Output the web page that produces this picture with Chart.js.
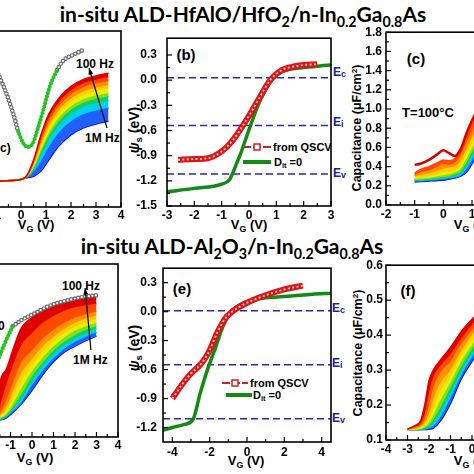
<!DOCTYPE html>
<html>
<head>
<meta charset="utf-8">
<script src="https://cdn.jsdelivr.net/npm/chart.js@4.4.1/dist/chart.umd.min.js"></script>
<style>
  html, body { margin: 0; padding: 0; background: #fff; }
  body { width: 474px; height: 474px; overflow: hidden; position: relative;
         font-family: "Liberation Sans", Arial, sans-serif; font-weight: bold; color: #000; }
  canvas { position: absolute; }
  .t { position: absolute; white-space: nowrap; line-height: 1; }
  .c { transform: translate(-50%, -50%); }
  .l { transform: translate(0, -50%); }
  .rot { transform: translate(-50%, -50%) rotate(-90deg); }
  .title { font-family: Lato, "Open Sans", sans-serif; font-size: 21px; font-weight: bold; }
  sub { font-size: 68%; position: relative; top: 0.32em; vertical-align: baseline; line-height: 0; }
  sup { font-size: 65%; position: relative; top: -0.45em; vertical-align: baseline; line-height: 0; }
  .lab { font-size: 15px; }
  .ax { font-size: 13px; }
  .lg { font-size: 11px; }
  .e { color: #2020a0; font-size: 12px; }
  .e sub { font-size: 75%; top: 0.15em; }
  svg { position: absolute; }
</style>
</head>
<body>

<div class="t title c" style="left:243px; top:13px">in-situ ALD-HfAlO/HfO<sub>2</sub>/n-In<sub>0.2</sub>Ga<sub>0.8</sub>As</div>
<div class="t title c" style="left:232px; top:245px">in-situ ALD-Al<sub>2</sub>O<sub>3</sub>/n-In<sub>0.2</sub>Ga<sub>0.8</sub>As</div>

<!-- panel labels and notes -->
<div class="t lab c" style="left:186px; top:54px">(b)</div>
<div class="t lab c" style="left:416px; top:58px">(c)</div>
<div class="t lab c" style="left:182px; top:288px">(e)</div>
<div class="t lab c" style="left:408px; top:290px">(f)</div>
<div class="t c" style="left:428px; top:112px; font-size:13px">T=100°C</div>
<div class="t l" style="left:76px; top:64px; font-size:12px">100 Hz</div>
<div class="t l" style="left:85px; top:138px; font-size:12px">1M Hz</div>
<div class="t l" style="left:62px; top:286px; font-size:12px">100 Hz</div>
<div class="t l" style="left:73px; top:360px; font-size:12px">1M Hz</div>
<div class="t l" style="left:0px; top:148px; font-size:12px">c)</div>
<div class="t l" style="left:-2px; top:326px; font-size:12px">0</div>

<!-- legends -->
<svg style="left:243px; top:143px" width="28" height="8"><line x1="0" y1="4" x2="28" y2="4" stroke="#d42020" stroke-width="2" stroke-dasharray="8 2"/><rect x="11" y="1" width="6" height="6" fill="#fff" stroke="#d42020" stroke-width="1.5"/></svg>
<div class="t lg l" style="left:273px; top:147px">from QSCV</div>
<svg style="left:243px; top:159px" width="28" height="6"><line x1="0" y1="3" x2="28" y2="3" stroke="#138a13" stroke-width="4"/></svg>
<div class="t lg l" style="left:274px; top:162px">D<sub>it</sub> =0</div>

<svg style="left:222px; top:379px" width="26" height="8"><line x1="0" y1="4" x2="26" y2="4" stroke="#d42020" stroke-width="2" stroke-dasharray="8 2"/><rect x="10" y="1" width="6" height="6" fill="#fff" stroke="#d42020" stroke-width="1.5"/></svg>
<div class="t lg l" style="left:250px; top:383px">from QSCV</div>
<svg style="left:226px; top:392px" width="26" height="6"><line x1="0" y1="3" x2="26" y2="3" stroke="#138a13" stroke-width="4"/></svg>
<div class="t lg l" style="left:253px; top:395px">D<sub>it</sub> =0</div>

<!-- band edges -->
<div class="t e l" style="left:333px; top:72px">E<sub>c</sub></div>
<div class="t e l" style="left:333px; top:122px">E<sub>i</sub></div>
<div class="t e l" style="left:333px; top:173px">E<sub>v</sub></div>
<div class="t e l" style="left:332px; top:308px">E<sub>c</sub></div>
<div class="t e l" style="left:332px; top:363px">E<sub>i</sub></div>
<div class="t e l" style="left:332px; top:418px">E<sub>v</sub></div>

<!-- axis titles -->
<div class="t ax c" style="left:36px; top:224px">V<sub>G</sub> (V)</div>
<div class="t ax c" style="left:249px; top:224px">V<sub>G</sub> (V)</div>
<div class="t ax c" style="left:472px; top:224px">V<sub>G</sub> (V)</div>
<div class="t ax c" style="left:35px; top:457px">V<sub>G</sub> (V)</div>
<div class="t ax c" style="left:246px; top:460px">V<sub>G</sub> (V)</div>
<div class="t ax c" style="left:472px; top:460px">V<sub>G</sub> (V)</div>
<div class="t rot" style="left:134px; top:130px; font-size:14px"><i>ψ</i><sub>s</sub> (eV)</div>
<div class="t rot" style="left:134px; top:348px; font-size:14px"><i>ψ</i><sub>s</sub> (eV)</div>
<div class="t rot" style="left:357px; top:128px; font-size:12.5px">Capacitance (μF/cm<sup>2</sup>)</div>
<div class="t rot" style="left:358px; top:353px; font-size:12.5px">Capacitance (μF/cm<sup>2</sup>)</div>

<script>
// ---------- data ----------
// colours of the frequency sweep, 100 Hz (top) ... 1 MHz (bottom)
const rainbow = ['#e00000', '#ff4800', '#ff9000', '#ffd000', '#e8f000', '#80e020', '#10d060', '#00d0f0', '#2060ff', '#0000c8'];

// (a) HfAlO/HfO2 C-V, normalised (y axis is cropped off)
const vgA = [-1.5, -0.8, -0.2, 0.2, 0.5, 0.8, 1.1, 1.5, 2.0, 2.5, 3.0, 3.5];
const cvA = [
  [0.135, 0.148, 0.152, 0.172, 0.265, 0.410, 0.525, 0.615, 0.685, 0.725, 0.745, 0.760],
  [0.135, 0.148, 0.152, 0.171, 0.258, 0.394, 0.504, 0.593, 0.663, 0.703, 0.723, 0.738],
  [0.135, 0.148, 0.152, 0.171, 0.251, 0.377, 0.483, 0.572, 0.641, 0.681, 0.701, 0.716],
  [0.135, 0.148, 0.152, 0.170, 0.243, 0.359, 0.460, 0.548, 0.616, 0.656, 0.677, 0.692],
  [0.135, 0.148, 0.152, 0.170, 0.236, 0.344, 0.442, 0.529, 0.597, 0.637, 0.658, 0.673],
  [0.135, 0.148, 0.152, 0.169, 0.228, 0.326, 0.418, 0.504, 0.572, 0.612, 0.633, 0.648],
  [0.135, 0.148, 0.152, 0.169, 0.222, 0.312, 0.400, 0.485, 0.553, 0.593, 0.614, 0.629],
  [0.135, 0.148, 0.152, 0.168, 0.214, 0.293, 0.377, 0.461, 0.528, 0.568, 0.589, 0.605],
  [0.135, 0.148, 0.152, 0.167, 0.200, 0.262, 0.338, 0.421, 0.487, 0.527, 0.548, 0.564],
  [0.135, 0.148, 0.152, 0.165, 0.175, 0.205, 0.265, 0.345, 0.410, 0.450, 0.472, 0.488]
];
const vgAq = [-1.2, -0.84, -0.56, -0.32, -0.12, 0.08, 0.28, 0.48, 0.68, 0.88, 1.16, 1.44, 1.68, 2.08, 2.48];
const qscvA = [0.85, 0.733, 0.636, 0.534, 0.432, 0.364, 0.341, 0.364, 0.449, 0.545, 0.688, 0.778, 0.83, 0.864, 0.892];
const greenA = [4, 11];   // highlighted QSCV points (index range)

// (b) surface potential, HfAlO/HfO2
const vgBq = [-2.6, -2.0, -1.5, -1.0, -0.6, -0.2, 0.1, 0.4, 0.8, 1.2, 1.6, 2.0, 2.5];
const psiBq = [-0.95, -0.94, -0.93, -0.85, -0.72, -0.53, -0.37, -0.20, 0.01, 0.12, 0.16, 0.18, 0.19];
const vgBd = [-3.0, -2.0, -1.0, -0.7, -0.5, -0.3, 0.0, 0.4, 0.9, 1.5, 2.0, 2.6, 3.0];
const psiBd = [-1.33, -1.29, -1.24, -1.18, -1.03, -0.87, -0.59, -0.25, 0.03, 0.13, 0.15, 0.17, 0.18];
const levelsB = [0.03, -0.54, -1.12];   // Ec, Ei, Ev

// (c) HfAlO/HfO2 C-V at 100 C
const vgC = [-1.0, -0.8, -0.5, -0.2, 0.0, 0.2, 0.4, 0.6, 0.8, 1.0, 1.2, 1.5];
const cvC = [
  [0.42, 0.43, 0.47, 0.53, 0.57, 0.54, 0.51, 0.58, 0.74, 0.88, 1.00, 1.15],
  [0.33, 0.37, 0.40, 0.44, 0.47, 0.46, 0.48, 0.56, 0.71, 0.84, 0.96, 1.10],
  [0.31, 0.34, 0.36, 0.40, 0.43, 0.42, 0.44, 0.52, 0.65, 0.77, 0.89, 1.04],
  [0.30, 0.31, 0.33, 0.36, 0.38, 0.39, 0.40, 0.46, 0.58, 0.70, 0.82, 0.98],
  [0.28, 0.29, 0.30, 0.32, 0.34, 0.35, 0.36, 0.42, 0.53, 0.64, 0.76, 0.92],
  [0.27, 0.275, 0.285, 0.30, 0.31, 0.32, 0.34, 0.38, 0.48, 0.59, 0.70, 0.86],
  [0.26, 0.265, 0.275, 0.285, 0.29, 0.30, 0.32, 0.35, 0.44, 0.55, 0.65, 0.80],
  [0.255, 0.26, 0.265, 0.275, 0.28, 0.29, 0.30, 0.33, 0.40, 0.51, 0.61, 0.75],
  [0.25, 0.25, 0.26, 0.265, 0.27, 0.28, 0.29, 0.31, 0.37, 0.47, 0.57, 0.71],
  [0.24, 0.245, 0.25, 0.255, 0.26, 0.27, 0.28, 0.30, 0.34, 0.43, 0.53, 0.67]
];

// (d) Al2O3 C-V, normalised (y axis is cropped off)
const vgD = [-1.6, -1.5, -1.2, -0.9, -0.5, 0.0, 0.5, 1.0, 1.5, 2.0, 2.5, 3.0];
const cvD = [
  [0.10, 0.30, 0.39, 0.50, 0.63, 0.69, 0.735, 0.77, 0.785, 0.80, 0.81, 0.815],
  [0.10, 0.17, 0.30, 0.41, 0.53, 0.60, 0.66, 0.70, 0.73, 0.75, 0.762, 0.77],
  [0.10, 0.13, 0.21, 0.31, 0.43, 0.50, 0.57, 0.62, 0.66, 0.69, 0.71, 0.725],
  [0.10, 0.12, 0.17, 0.26, 0.37, 0.45, 0.525, 0.58, 0.625, 0.66, 0.685, 0.70],
  [0.10, 0.115, 0.15, 0.22, 0.32, 0.41, 0.49, 0.55, 0.60, 0.635, 0.66, 0.68],
  [0.10, 0.11, 0.135, 0.19, 0.28, 0.38, 0.46, 0.525, 0.575, 0.615, 0.64, 0.66],
  [0.10, 0.105, 0.125, 0.17, 0.245, 0.35, 0.43, 0.50, 0.55, 0.59, 0.62, 0.64],
  [0.10, 0.105, 0.12, 0.16, 0.22, 0.32, 0.41, 0.48, 0.53, 0.57, 0.60, 0.625],
  [0.10, 0.10, 0.115, 0.15, 0.20, 0.30, 0.385, 0.455, 0.51, 0.55, 0.58, 0.605],
  [0.10, 0.10, 0.11, 0.14, 0.19, 0.27, 0.36, 0.435, 0.49, 0.525, 0.557, 0.583]
];
const vgDq = [-1.6, -1.5, -1.2, -0.9, -0.5, 0.05, 0.85, 1.65, 2.4, 3.05];
const qscvD = [0.44, 0.47, 0.56, 0.64, 0.675, 0.71, 0.76, 0.79, 0.81, 0.82];
const greenD = [0, 3];

// (e) surface potential, Al2O3
const vgEq = [-4.0, -3.5, -3.0, -2.6, -2.3, -2.0, -1.6, -1.2, -0.8, -0.4, 0.2, 1.0, 2.0, 3.0];
const psiEq = [-0.90, -0.76, -0.64, -0.57, -0.50, -0.40, -0.22, -0.08, 0.0, 0.05, 0.11, 0.17, 0.23, 0.27];
const vgEd = [-4.5, -4.0, -3.4, -2.9, -2.5, -2.1, -1.7, -1.3, -0.9, -0.4, 0.5, 1.5, 2.5, 3.5, 4.5];
const psiEd = [-1.23, -1.20, -1.17, -1.12, -0.84, -0.59, -0.38, -0.16, -0.01, 0.07, 0.13, 0.15, 0.165, 0.18, 0.19];
const levelsE = [0.01, -0.55, -1.11];

// (f) Al2O3 C-V at 100 C
const vgF = [-3.0, -2.7, -2.4, -2.2, -2.0, -1.8, -1.5, -1.0, -0.5, 0.0, 0.5, 1.0];
const cvF = [
  [0.131, 0.14, 0.154, 0.20, 0.27, 0.30, 0.326, 0.365, 0.41, 0.445, 0.475, 0.50],
  [0.131, 0.138, 0.148, 0.175, 0.235, 0.28, 0.31, 0.345, 0.39, 0.43, 0.46, 0.485],
  [0.13, 0.135, 0.142, 0.16, 0.20, 0.25, 0.29, 0.325, 0.375, 0.415, 0.45, 0.475],
  [0.13, 0.133, 0.138, 0.15, 0.175, 0.215, 0.26, 0.30, 0.355, 0.40, 0.435, 0.46],
  [0.13, 0.132, 0.135, 0.143, 0.16, 0.19, 0.235, 0.28, 0.34, 0.385, 0.42, 0.45],
  [0.13, 0.131, 0.133, 0.138, 0.15, 0.17, 0.21, 0.265, 0.325, 0.372, 0.41, 0.44],
  [0.13, 0.13, 0.132, 0.135, 0.142, 0.158, 0.19, 0.25, 0.31, 0.36, 0.40, 0.43],
  [0.13, 0.13, 0.131, 0.133, 0.137, 0.148, 0.175, 0.235, 0.297, 0.348, 0.39, 0.42],
  [0.13, 0.13, 0.13, 0.131, 0.134, 0.14, 0.162, 0.22, 0.285, 0.337, 0.38, 0.41],
  [0.13, 0.13, 0.13, 0.13, 0.131, 0.134, 0.152, 0.205, 0.275, 0.325, 0.37, 0.40]
];

// tick values
const ticksV1 = [-4, -3, -2, -1, 0, 1, 2, 3, 4];
const ticksVb = [-3, -2, -1, 0, 1, 2, 3];
const ticksVc = [-2, -1, 0, 1, 2, 3, 4];
const ticksVe = [-4, -2, 0, 2, 4];
const ticksNorm = [0, 0.2, 0.4, 0.6, 0.8, 1.0];
const ticksPsiB = [-1.5, -1.2, -0.9, -0.6, -0.3, 0.0, 0.3];
const ticksPsiE = [-1.2, -0.9, -0.6, -0.3, 0.0, 0.3];
const ticksCapC = [0, 0.2, 0.4, 0.6, 0.8, 1.0, 1.2, 1.4, 1.6, 1.8];
const ticksCapF = [0.1, 0.2, 0.3, 0.4, 0.5, 0.6];

// ---------- helpers ----------
const font = { family: 'Liberation Sans', weight: 'bold', size: 12 };
const pts = (xs, ys) => xs.map((x, i) => ({ x: x, y: ys[i] }));

function band(xs, curves, firstFill) {
  return curves.map((ys, i) => ({
    data: pts(xs, ys),
    borderColor: rainbow[i], backgroundColor: rainbow[i], borderWidth: 1.5,
    fill: (i >= firstFill && i < curves.length - 1) ? '+1' : false,
    order: 5
  }));
}
function dots(xs, ys, color, w, gap, order) {
  return { data: pts(xs, ys), borderColor: color, borderWidth: w, borderDash: [0, gap],
           borderCapStyle: 'round', fill: false, order: order };
}
function qscvRings(xs, ys, hi) {
  const out = [];
  const parts = [[0, hi[0] + 1], [hi[1], xs.length]];
  parts.forEach(p => {
    if (p[1] - p[0] < 2) return;
    const sx = xs.slice(p[0], p[1]), sy = ys.slice(p[0], p[1]);
    out.push(dots(sx, sy, '#6a6a6a', 4.6, 3.6, 2));
    out.push(dots(sx, sy, '#ffffff', 2.2, 3.6, 1));
  });
  out.push(dots(xs.slice(hi[0], hi[1] + 1), ys.slice(hi[0], hi[1] + 1), '#22c322', 4.2, 3.4, 0));
  return out;
}
function squares(xs, ys) {
  return [
    { data: pts(xs, ys), borderColor: '#e01414', borderWidth: 6, fill: false, order: 1 },
    { data: pts(xs, ys), borderColor: '#ffd6d6', borderWidth: 1.8, borderDash: [2, 2.4], fill: false, order: 0 }
  ];
}
function levels(vals, xmin, xmax) {
  return vals.map(v => ({ data: [{ x: xmin, y: v }, { x: xmax, y: v }], borderColor: '#2b2ba8',
    borderWidth: 1.5, borderDash: [7, 4], fill: false, order: 4 }));
}

const framePlugin = {
  id: 'frame',
  afterDatasetsDraw(chart, args, opts) {
    const { ctx, chartArea: a, scales } = chart;
    const xs = scales.x, ys = scales.y;
    ctx.save();
    ctx.strokeStyle = '#000';
    ctx.fillStyle = '#000';
    ctx.lineWidth = 1.2;
    const mark = (ticks, scale, horiz) => {
      const v = ticks.map(t => t.value);
      const all = [];
      v.forEach((t, i) => {
        all.push([t, 5]);
        if (i < v.length - 1) all.push([(t + v[i + 1]) / 2, 3]);
      });
      all.forEach(([t, len]) => {
        const p = scale.getPixelForValue(t);
        ctx.beginPath();
        if (horiz) { ctx.moveTo(p, a.bottom); ctx.lineTo(p, a.bottom - len); }
        else { ctx.moveTo(a.left, p); ctx.lineTo(a.left + len, p); }
        ctx.stroke();
      });
    };
    mark(xs.ticks, xs, true);
    mark(ys.ticks, ys, false);
    ctx.lineWidth = 1.6;
    ctx.strokeRect(a.left, a.top, a.right - a.left, a.bottom - a.top);
    ctx.lineWidth = 1.2;
    (opts.arrows || []).forEach(ar => {
      const x1 = xs.getPixelForValue(ar.from[0]), y1 = ys.getPixelForValue(ar.from[1]);
      const x2 = xs.getPixelForValue(ar.to[0]), y2 = ys.getPixelForValue(ar.to[1]);
      ctx.beginPath(); ctx.moveTo(x1, y1); ctx.lineTo(x2, y2); ctx.stroke();
      const ang = Math.atan2(y2 - y1, x2 - x1);
      ctx.beginPath();
      ctx.moveTo(x2, y2);
      ctx.lineTo(x2 - 7 * Math.cos(ang - 0.35), y2 - 7 * Math.sin(ang - 0.35));
      ctx.lineTo(x2 - 7 * Math.cos(ang + 0.35), y2 - 7 * Math.sin(ang + 0.35));
      ctx.closePath(); ctx.fill();
    });
    ctx.restore();
  }
};

// box = plot area in page pixels
function panel(box, x, y, datasets, extra) {
  const padL = 50, padT = 10, padR = 10, padB = 30;
  const w = box.r - box.l + padL + padR, h = box.b - box.t + padT + padB;
  const cv = document.createElement('canvas');
  cv.width = w; cv.height = h;
  cv.style.left = (box.l - padL) + 'px';
  cv.style.top = (box.t - padT) + 'px';
  cv.style.width = w + 'px'; cv.style.height = h + 'px';
  document.body.appendChild(cv);
  return new Chart(cv, {
    type: 'line',
    data: { datasets: datasets },
    options: {
      responsive: false, animation: false, devicePixelRatio: 1,
      layout: { autoPadding: false, padding: { left: 0, top: padT, right: padR, bottom: 0 } },
      elements: { point: { radius: 0 }, line: { cubicInterpolationMode: 'monotone' } },
      plugins: { legend: { display: false }, tooltip: { enabled: false }, frame: extra || {} },
      scales: {
        x: {
          type: 'linear', min: x.min, max: x.max,
          afterBuildTicks: s => { s.ticks = x.ticks.map(v => ({ value: v })); },
          afterFit: s => { s.height = padB; },
          grid: { display: false, drawTicks: false }, border: { display: false },
          ticks: { font: font, color: '#000', padding: x.pad, maxRotation: 0, autoSkip: false,
                   callback: v => String(v) }
        },
        y: {
          type: 'linear', min: y.min, max: y.max,
          afterBuildTicks: s => { s.ticks = y.ticks.map(v => ({ value: v })); },
          afterFit: s => { s.width = padL; },
          grid: { display: false, drawTicks: false }, border: { display: false },
          ticks: { display: y.show !== false, font: font, color: '#000', padding: y.pad, autoSkip: false,
                   callback: v => v.toFixed(1) }
        }
      }
    },
    plugins: [framePlugin]
  });
}

// ---------- panels ----------
panel({ l: -79, t: 31, r: 121, b: 207 },
  { min: -4, max: 4, ticks: ticksV1, pad: 1 },
  { min: 0, max: 1, ticks: ticksNorm, show: false, pad: 4 },
  band(vgA, cvA, 0).concat(qscvRings(vgAq, qscvA, greenA)),
  { arrows: [{ from: [3.44, 0.449], to: [2.72, 0.79] }] });

panel({ l: 167, t: 31, r: 331, b: 206 },
  { min: -3, max: 3, ticks: ticksVb, pad: 2 },
  { min: -1.5, max: 0.5, ticks: ticksPsiB, pad: 10 },
  squares(vgBq, psiBq).concat([
    { data: pts(vgBd, psiBd), borderColor: '#138a13', borderWidth: 3.5, fill: false, order: 2 }
  ]).concat(levels(levelsB, -3, 3)));

panel({ l: 386, t: 31, r: 558, b: 205 },
  { min: -2, max: 4, ticks: ticksVc, pad: 2 },
  { min: 0, max: 1.8, ticks: ticksCapC, pad: 4 },
  band(vgC, cvC, 1).map((d, i) => i === 0 ? Object.assign(d, { borderWidth: 2.5, borderColor: '#d80000', order: 4 }) : d));

panel({ l: -54, t: 264, r: 118, b: 437 },
  { min: -4, max: 4, ticks: ticksV1, pad: 1 },
  { min: 0, max: 1, ticks: ticksNorm, show: false, pad: 4 },
  band(vgD, cvD, 0).concat(qscvRings(vgDq, qscvD, greenD)),
  { arrows: [{ from: [2.74, 0.503], to: [2.47, 0.861] }] });

panel({ l: 163, t: 265, r: 331, b: 442 },
  { min: -4.5, max: 4.5, ticks: ticksVe, pad: 3 },
  { min: -1.35, max: 0.45, ticks: ticksPsiE, pad: 6 },
  squares(vgEq, psiEq).concat([
    { data: pts(vgEd, psiEd), borderColor: '#138a13', borderWidth: 3.5, fill: false, order: 2 }
  ]).concat(levels(levelsE, -4.5, 4.5)));

panel({ l: 386, t: 265, r: 558, b: 440 },
  { min: -4, max: 4, ticks: ticksV1, pad: 2 },
  { min: 0.1, max: 0.6, ticks: ticksCapF, pad: 3 },
  band(vgF, cvF, 0));
</script>
</body>
</html>
